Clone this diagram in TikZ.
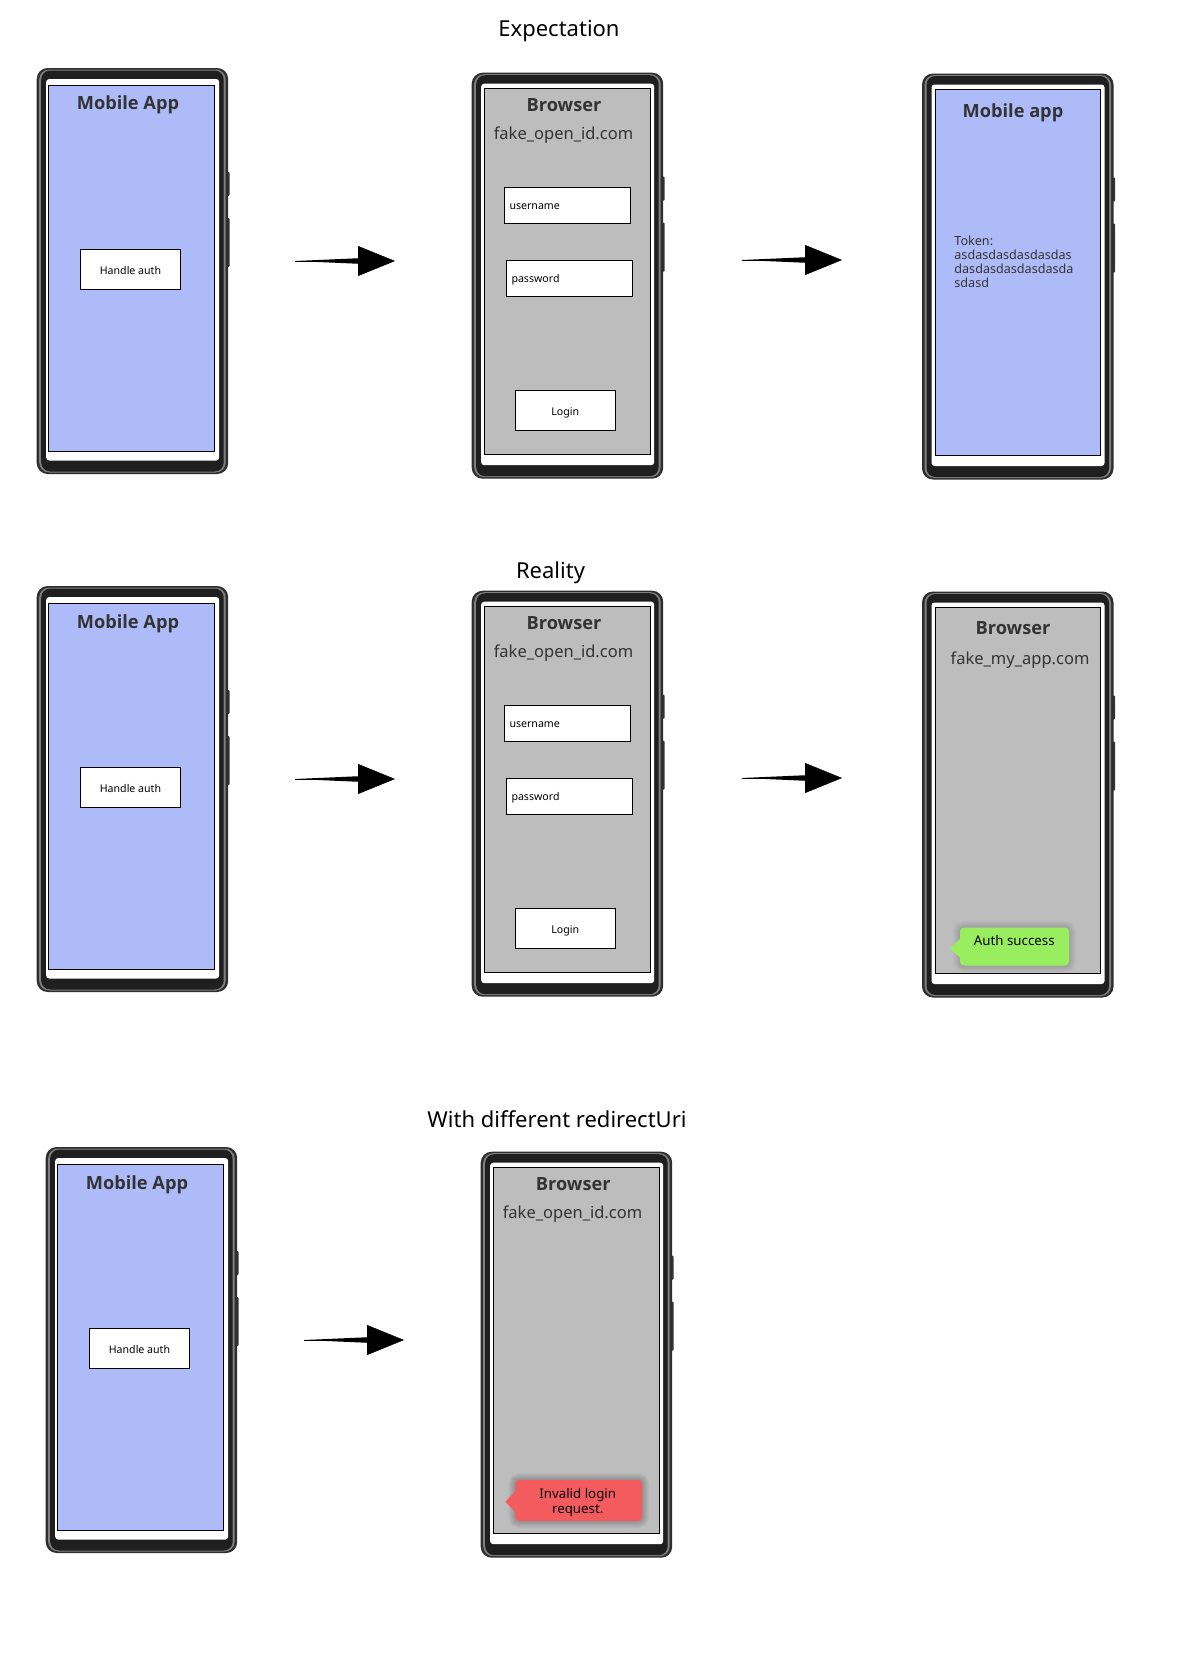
\documentclass[tikz,border=0pt]{standalone}
\usepackage{fontspec}
\setmainfont{Noto Sans}[BoldFont={Open Sans Bold}]
\usetikzlibrary{arrows.meta,calc,positioning}
\definecolor{appblue}{HTML}{AEBBF9}
\definecolor{webgray}{HTML}{BDBDBD}
\definecolor{inkgray}{HTML}{333333}
\definecolor{okgreen}{HTML}{99EE5F}
\definecolor{badred}{HTML}{F45B5F}
\tikzset{
caselabel/.style={font=\fontsize{22}{26}\selectfont,inner sep=0pt,yshift=-3pt},
screentitle/.style={font=\fontsize{18.2}{22}\selectfont\bfseries,text=inkgray,inner sep=0pt},
screenurl/.style={font=\fontsize{16.5}{20}\selectfont,text=inkgray,inner sep=0pt,yshift=-2pt},
screentext/.style={font=\fontsize{12.6}{14}\selectfont,text=inkgray,inner sep=0pt,align=left,anchor=north west,text width=125pt},
formbox/.style={draw=black,fill=white,line width=1pt,inner sep=0pt,font=\fontsize{10.6}{13}\selectfont,text depth=0pt},
inputbox/.style={formbox,minimum width=126pt,minimum height=36pt,text width=116pt,text height=8pt},
pressbox/.style={formbox,minimum width=100pt,minimum height=40pt,text height=10pt},
toast/.style={inner sep=0pt,rounded corners=4pt,font=\fontsize{13.3}{15}\selectfont,align=center},
flowline/.style={line width=.4pt,-{Triangle[length=37pt,width=30pt]}},
}
% phone body, screen node is called #1, #5 #6 = screen offset
\newcommand{\phone}[6]{
\begin{scope}[shift={(#2,#3)}]
\fill[rounded corners=1pt,black!80](190,104) rectangle (193,128);
\fill[rounded corners=1pt,black!80](190,150) rectangle (193,199);
\fill[rounded corners=11pt,black!82](0,0) rectangle (191.5,406);
\fill[rounded corners=10pt,black!50](2.5,1.5) rectangle (189,404.5);
\fill[rounded corners=9pt,black!88](4.5,2.5) rectangle (187,403.5);
\fill[rounded corners=3pt,white](9.5,11) rectangle (182.5,392.5);
\node[draw=black,line width=1pt,fill=#4,minimum width=165.8pt,minimum height=365.8pt,inner sep=0pt,anchor=north west] (#1) at (#5,#6) {};
\end{scope}
}
% tapered arrow from #1 to #2
\newcommand{\flowarrow}[6]{
\coordinate (#1) at (#3,#4);
\coordinate (#2) at (#5,#6);
\fill ($(#2)+(-36,-2.8)$) -- (#1) -- ($(#2)+(-36,2.8)$) -- cycle;
\draw[flowline] (#1) -- (#2);
}
% soft shadow under a toast, #5 = strength
\newcommand{\toastshadow}[5]{
\foreach \w in {2,4,...,14}{\draw[line width=\w pt,black,opacity=#5,rounded corners=4pt] (#1,#2) rectangle (#3,#4);}
}
\begin{document}
\begin{tikzpicture}[x=1pt,y=-1pt]
\useasboundingbox (0,0) rectangle (1179,1660);
\node[caselabel] (expect) at (559,28.5) {Expectation};
\node[caselabel] (real) at (550.5,569.5) {Reality};
\node[caselabel] (other) at (557,1116.5) {With different redirectUri};
% first row
\phone{appA}{36.7}{68}{appblue}{11.6}{17}
\node[screentitle] (appAtitle) at (128,105) {Mobile App};
\node[pressbox] (appAbtn) at (130.5,269.5) {Handle auth};
\flowarrow{tailA}{tipA}{295}{261}{395}{261}
\phone{webA}{471.7}{72.7}{webgray}{12.6}{15.5}
\node[screentitle] (webAtitle) at (564,105) {Browser};
\node[screenurl] (webAurl) at (563.5,133) {fake\_open\_id.com};
\node[inputbox] (webAuser) at (567.5,205.3) {username};
\node[inputbox] (webApass) at (569.5,278.3) {password};
\node[pressbox] (webAbtn) at (565.3,410.5) {Login};
\flowarrow{tailB}{tipB}{742}{260}{842}{260}
\phone{appB}{922}{73.5}{appblue}{12.6}{15.5}
\node[screentitle] (appBtitle) at (1013,113) {Mobile app};
\node[screentext] (appBtoken) at (954.2,236) {Token:\\asdasdasdasdasdas\\dasdasdasdasdasda\\sdasd};
% second row
\phone{appC}{36.7}{586}{appblue}{11.6}{17}
\node[screentitle] (appCtitle) at (128,624) {Mobile App};
\node[pressbox] (appCbtn) at (130.5,787.5) {Handle auth};
\flowarrow{tailC}{tipC}{295}{779}{395}{779}
\phone{webC}{471.7}{590.7}{webgray}{12.6}{15.5}
\node[screentitle] (webCtitle) at (564,623.5) {Browser};
\node[screenurl] (webCurl) at (563.5,651) {fake\_open\_id.com};
\node[inputbox] (webCuser) at (567.5,723.3) {username};
\node[inputbox] (webCpass) at (569.5,796.3) {password};
\node[pressbox] (webCbtn) at (565.3,928.5) {Login};
\flowarrow{tailD}{tipD}{742}{778}{842}{778}
\phone{webD}{922}{591.5}{webgray}{12.6}{15.5}
\node[screentitle] (webDtitle) at (1013,628) {Browser};
\node[screenurl] (webDurl) at (1020,658) {fake\_my\_app.com};
\toastshadow{960}{927.5}{1069}{965.5}{.02}
\node[toast,fill=okgreen,minimum width=109pt,minimum height=38pt] (okToast) at (1014.5,946.5) {};
\coordinate (okTip) at (950,948.3);
\fill[okgreen] (960,939) -- (okTip) -- (960,957.5) -- cycle;
\node[toast] (okText) at (1014.3,940) {Auth success};
% third row
\phone{appE}{45.7}{1147}{appblue}{11.6}{17}
\node[screentitle] (appEtitle) at (137,1185) {Mobile App};
\node[pressbox] (appEbtn) at (139.5,1348.5) {Handle auth};
\flowarrow{tailE}{tipE}{304}{1340}{404}{1340}
\phone{webE}{480.7}{1151.7}{webgray}{12.6}{15.5}
\node[screentitle] (webEtitle) at (573.3,1184) {Browser};
\node[screenurl] (webEurl) at (572.5,1212) {fake\_open\_id.com};
\toastshadow{515.3}{1480}{642}{1521}{.03}
\node[toast,fill=badred,minimum width=126.7pt,minimum height=41pt] (badToast) at (578.7,1500.5) {};
\coordinate (badTip) at (505.3,1501.7);
\fill[badred] (515.3,1491.5) -- (badTip) -- (515.3,1512) -- cycle;
\node[toast,yshift=-2pt] (badText) at (577.7,1500.5) {Invalid login\\request.};
\end{tikzpicture}
\end{document}
